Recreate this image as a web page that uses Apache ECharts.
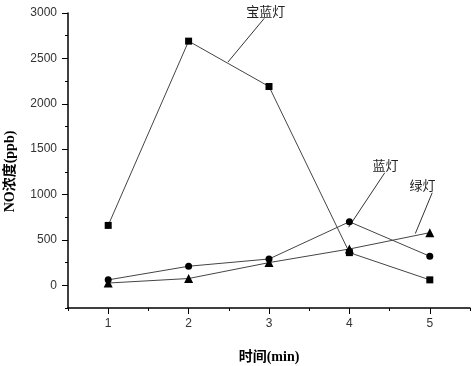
<!DOCTYPE html>
<html><head><meta charset="utf-8">
<script src="https://cdn.jsdelivr.net/npm/echarts@6/dist/echarts.min.js"></script>
<style>html,body{margin:0;padding:0;background:#fff}#c{width:474px;height:366px}</style>
</head><body><div id="c"></div>
<script>
const times = [1, 2, 3, 4, 5];
const baoLan = [660, 2690, 2190, 360, 60];
const lan = [60, 210, 290, 700, 320];
const lv = [25, 75, 250, 400, 580];
const seriesNames = ['宝蓝灯', '蓝灯', '绿灯'];
const xMajorTicks = [1, 2, 3, 4, 5];
const yMajorTicks = [0, 500, 1000, 1500, 2000, 2500, 3000];
// annotation: [labelX, labelY, lineStartX, lineStartY, lineEndX, lineEndY] in data units
const notes = [
  [2.96, 3020, 2.94, 2940, 2.49, 2460],
  [4.45, 1320, 4.44, 1240, 3.99, 640],
  [4.91, 1100, 5.03, 1020, 4.82, 570]
];
const chart = echarts.init(document.getElementById('c'));
const font = '"Liberation Sans", Arial, sans-serif';
const nameFont = { fontFamily: '"Liberation Serif", "Noto Sans CJK SC", serif', fontWeight: 'bold', fontSize: 14, color: '#000' };
function mk(name, vals, sym) {
  return {
    name, type: 'line', data: times.map((t, i) => [t, vals[i]]),
    symbol: sym, symbolSize: sym === 'triangle' ? 9 : 7,
    lineStyle: { color: '#444', width: 1 },
    itemStyle: { color: '#000' }, animation: false
  };
}
chart.setOption({
  animation: false,
  grid: { left: 68, right: 4, top: 13, bottom: 58, containLabel: false, outerBoundsMode: 'none' },
  xAxis: [{
    type: 'value', min: 0.5, max: 5.5, interval: 0.5,
    name: '时间(min)', nameLocation: 'middle', nameGap: 42, nameMoveOverlap: false,
    nameTextStyle: nameFont,
    axisLine: { onZero: false, lineStyle: { color: '#000', width: 1.5 } },
    axisTick: { lineStyle: { color: '#000' }, length: 3 },
    axisLabel: { color: '#333', fontFamily: font, fontSize: 12, margin: 10,
      formatter: v => (Math.abs(v - Math.round(v)) < 1e-6 && v >= 1 && v <= 5) ? String(Math.round(v)) : '' },
    splitLine: { show: false }
  }, {
    type: 'value', min: 0.5, max: 5.5, position: 'bottom',
    axisLine: { show: false, onZero: false },
    axisTick: { show: true, customValues: xMajorTicks, length: 6, lineStyle: { color: '#000' } },
    axisLabel: { show: false }, splitLine: { show: false }
  }],
  yAxis: [{
    type: 'value', min: -250, max: 3000, interval: 250,
    name: 'NO浓度(ppb)', nameLocation: 'middle', nameGap: 51, nameRotate: 90, nameMoveOverlap: false,
    nameTextStyle: Object.assign({ padding: [0, 22, 0, 0] }, nameFont),
    axisLine: { show: true, onZero: false, lineStyle: { color: '#000', width: 1.5 } },
    axisTick: { show: true, lineStyle: { color: '#000' }, length: 3 },
    axisLabel: { color: '#333', fontFamily: font, fontSize: 12, margin: 11,
      formatter: v => (v % 500 === 0) ? String(v) : '' },
    splitLine: { show: false }
  }, {
    type: 'value', min: -250, max: 3000, position: 'left',
    axisLine: { show: false, onZero: false },
    axisTick: { show: true, customValues: yMajorTicks, length: 6, lineStyle: { color: '#000' } },
    axisLabel: { show: false }, splitLine: { show: false }
  }],
  series: [mk(seriesNames[0], baoLan, 'rect'), mk(seriesNames[1], lan, 'circle'), mk(seriesNames[2], lv, 'triangle')]
});
const g = [];
notes.forEach((n, i) => {
  const p = chart.convertToPixel({ gridIndex: 0 }, [n[0], n[1]]);
  const a = chart.convertToPixel({ gridIndex: 0 }, [n[2], n[3]]);
  const b = chart.convertToPixel({ gridIndex: 0 }, [n[4], n[5]]);
  g.push({ type: 'text', x: p[0], y: p[1], style: { text: seriesNames[i], fill: '#222', font: '13px "Noto Sans CJK SC", sans-serif', textAlign: 'center', textVerticalAlign: 'middle' } });
  g.push({ type: 'line', shape: { x1: a[0], y1: a[1], x2: b[0], y2: b[1] }, style: { stroke: '#333', lineWidth: 1 } });
});
chart.setOption({ graphic: g });
</script></body></html>
